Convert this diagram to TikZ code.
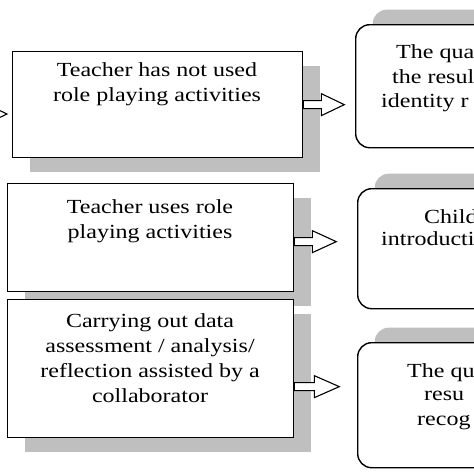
\documentclass[tikz,border=0pt]{standalone}
\usepackage{fontspec}
\setmainfont{Liberation Serif}[FakeStretch=1.2]
\usetikzlibrary{calc,shadows}
\begin{document}
\begin{tikzpicture}[x=1pt,y=-1pt,
  lbox/.style={draw=black, line width=1.3pt, fill=white, inner sep=0pt, anchor=north west,
    drop shadow={shadow xshift=17pt, shadow yshift=-14pt, opacity=1, fill=black!25}},
  rbox/.style={draw=black, line width=1.4pt, fill=white, rounded corners=14pt, inner sep=0pt, anchor=north west,
    drop shadow={shadow xshift=17pt, shadow yshift=15pt, opacity=1, fill=black!25}},
  ltext/.style={font=\fontsize{20}{25}\selectfont, align=center, inner sep=0pt, anchor=base},
  rtext/.style={font=\fontsize{20}{25}\selectfont, inner sep=0pt, anchor=base west},
  barrow/.style={draw=black, line width=1.1pt, fill=white, line join=miter}]
\useasboundingbox (0,0) rectangle (474,474);
\clip (0,0) rectangle (474,474);
\fill[white] (0,0) rectangle (474,474);

% left boxes
\node[lbox, minimum width=290pt, minimum height=106pt] (b1) at (12,51) {};
\node[lbox, minimum width=286pt, minimum height=108pt] (b2) at (7,183) {};
\node[lbox, minimum width=286pt, minimum height=138pt] (b3) at (7,299) {};

% (base anchor = baseline of the last line)
\node[ltext] (t1) at (157,101) {Teacher has not used\\role playing activities};
\node[ltext] (t2) at (150,238) {Teacher uses role\\playing activities};
\node[ltext] (t3) at (150,402) {Carrying out data\\assessment / analysis/\\reflection assisted by a\\collaborator};

% right boxes
\node[rbox, minimum width=200pt, minimum height=123pt] (r1) at (355,24) {};
\node[rbox, minimum width=200pt, minimum height=120pt] (r2) at (357,188) {};
\node[rbox, minimum width=200pt, minimum height=125pt] (r3) at (357,342) {};

\node[rtext] (r1a) at (396,58) {The qua};
\node[rtext] (r1b) at (392,83) {the resul};
\node[rtext] (r1c) at (381,107) {identity r};
\node[rtext] (r2a) at (424,223) {Child};
\node[rtext] (r2b) at (381,245) {introducti};
\node[rtext] (r3a) at (407,377) {The qu};
\node[rtext] (r3b) at (424,400) {resu};
\node[rtext] (r3c) at (417,425) {recog};

% block arrows
\draw[barrow] ($(b1.east)+(0,-4)$) -- ++(18,0) -- ++(0,-7) -- ++(23,11) -- ++(-23,11) -- ++(0,-7) -- ++(-18,0) -- cycle;
\draw[barrow] ($(b2.east)+(0,0)$) -- ++(18,0) -- ++(0,-7) -- ++(24,11) -- ++(-24,11) -- ++(0,-7) -- ++(-18,0) -- cycle;
\draw[barrow] ($(b3.east)+(0,14)$) -- ++(20,0) -- ++(0,-7) -- ++(25,11) -- ++(-25,11) -- ++(0,-7) -- ++(-20,0) -- cycle;

% partial arrow at the left edge
\coordinate (lt) at (7,114);
\draw[barrow] (lt) -- ++(-23,-11) -- ++(0,7) -- ++(-18,0) -- ++(0,8) -- ++(18,0) -- ++(0,7) -- cycle;
\end{tikzpicture}
\end{document}
